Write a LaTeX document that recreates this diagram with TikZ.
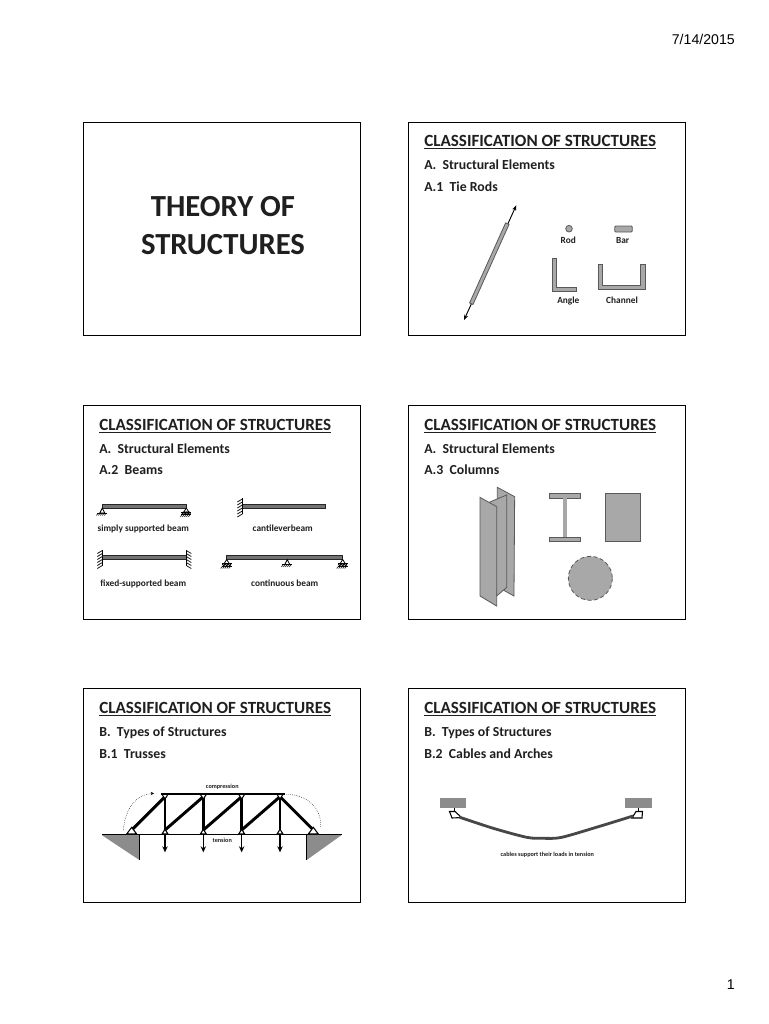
\documentclass[tikz,border=0pt]{standalone}
\usepackage{fontspec}
\setmainfont{Carlito}
\newfontfamily\arialfont{Liberation Sans}
\usetikzlibrary{arrows.meta,positioning,calc}
\definecolor{inkdark}{gray}{0.12}
\definecolor{steelgray}{gray}{0.66}
\definecolor{steeledge}{gray}{0.35}
\tikzset{
    slide/.style={draw=black,line width=.7pt,fill=white},
    slide title/.style={anchor=west,inner sep=0pt,text=inkdark,text height=11.2pt,text depth=2pt,font=\fontsize{12.8}{14}\selectfont\bfseries},
    slide text/.style={anchor=west,inner sep=0pt,text=inkdark,text height=9.2pt,text depth=2pt,font=\fontsize{10.35}{12}\selectfont\bfseries},
    small label/.style={inner sep=0pt,text=inkdark,text height=6.1pt,text depth=1.4pt,font=\fontsize{7}{8}\selectfont\bfseries},
    tiny label/.style={inner sep=0pt,text=inkdark,text height=4pt,text depth=.9pt,font=\fontsize{4.65}{5}\selectfont\bfseries},
    page text/.style={inner sep=0pt,font=\fontsize{10.6}{12}\selectfont\arialfont},
    steel/.style={fill=steelgray,draw=steeledge,line width=.6pt},
    beam/.style={fill=black!55,draw=black!85,line width=.5pt},
    arr/.style={-{Stealth[length=4.5pt,width=4pt]},line width=1.2pt},
    member/.style={line width=2.2pt,line cap=round},
    hatch/.style={line width=.45pt,black!90},
    gusset/.style={fill=white,draw=black,line width=.8pt},
    rock/.style={fill=black!45},
    pinsupport/.pic={
        \draw[line width=.6pt,fill=white] (0,0) -- (-2.5,5) -- (2.5,5) -- cycle;
        \draw[line width=.7pt] (-5,5) -- (5,5);
        \foreach \i in {-4,-2,0,2,4}
            \draw[hatch] (\i,5) -- +(-2,2.5);
    },
    rollersupport/.pic={
        \draw[line width=.6pt,fill=white] (0,0) -- (-2.5,4) -- (2.5,4) -- cycle;
        \draw[line width=.7pt] (-5,4) -- (5,4);
        \foreach \i in {-3,0,3}
            \draw[line width=.5pt] (\i,5.2) circle[radius=1.2];
        \draw[line width=.7pt] (-5,6.5) -- (5,6.5);
        \foreach \i in {-4,-2,0,2,4}
            \draw[hatch] (\i,6.5) -- +(-2,2.5);
    },
    wallsupport/.pic={
        \draw[line width=.8pt] (0,-8) -- (0,8);
        \foreach \i in {-7,-4,-1,2,5,8}
            \draw[hatch,line width=.6pt] (0,\i) -- +(-5,3);
    },
}

\begin{document}
\begin{tikzpicture}[x=.75pt,y=-.75pt]
    \useasboundingbox (0,0) rectangle (768,1024);
    \fill[white] (0,0) rectangle (768,1024);

    \node[page text,anchor=east] (datelabel) at (735,39) {7/14/2015};
    \node[page text,anchor=east] (pagelabel) at (735,985) {1};

    % six slides
    \draw[slide] (83,122) rectangle (360,335);
    \draw[slide] (408,122) rectangle (685,335);
    \draw[slide] (83,405) rectangle (360,619);
    \draw[slide] (408,405) rectangle (685,619);
    \draw[slide] (83,688) rectangle (360,902);
    \draw[slide] (408,688) rectangle (685,902);

    \node[text=inkdark,font=\fontsize{23}{28.5}\selectfont\bfseries,align=center] (maintitle) at (223,225.5) {THEORY OF\\STRUCTURES};

    % headings
    \node[slide title] (titleb) at (424,140) {\underline{CLASSIFICATION OF STRUCTURES}};
    \node[slide text] (groupb) at (424,165) {A.\ \ Structural Elements};
    \node[slide text] (itemb) at (424,187) {A.1\ \ Tie Rods};
    \node[slide title] (titlec) at (99,424) {\underline{CLASSIFICATION OF STRUCTURES}};
    \node[slide text] (groupc) at (99,449) {A.\ \ Structural Elements};
    \node[slide text] (itemc) at (99,470) {A.2\ \ Beams};
    \node[slide title] (titled) at (424,424) {\underline{CLASSIFICATION OF STRUCTURES}};
    \node[slide text] (groupd) at (424,449) {A.\ \ Structural Elements};
    \node[slide text] (itemd) at (424,470) {A.3\ \ Columns};
    \node[slide title] (titlee) at (99,707) {\underline{CLASSIFICATION OF STRUCTURES}};
    \node[slide text] (groupe) at (99,732) {B.\ \ Types of Structures};
    \node[slide text] (iteme) at (99,754) {B.1\ \ Trusses};
    \node[slide title] (titlef) at (424,707) {\underline{CLASSIFICATION OF STRUCTURES}};
    \node[slide text] (groupf) at (424,732) {B.\ \ Types of Structures};
    \node[slide text] (itemf) at (424,754) {B.2\ \ Cables and Arches};

    % tie rod
    \draw[<->,>={Stealth[length=4pt,width=3pt]},line width=.7pt] (516.3,205.3) -- (464,320);
    \draw[steel,line cap=round] (505.6,222.9) -- (469.6,302.9) -- (473,304.5) -- (509,224.5) -- cycle;
    \fill[steel] (569,228.7) circle[radius=3.3];
    \draw[steel,rounded corners=.8pt] (614.7,226) rectangle (632.3,232);
    \node[small label] (rodlabel) at (568.3,240) {Rod};
    \node[small label] (barlabel) at (622.7,240) {Bar};
    \draw[steel] (552,258.7) -- (556.3,258.7) -- (556.3,287.7) -- (576.3,287.7) -- (576.3,291.3) -- (552,291.3) -- cycle;
    \draw[steel] (598.3,264.7) -- (602.7,264.7) -- (602.7,285.3) -- (640.7,285.3) -- (640.7,264.7) -- (645,264.7) -- (645,289.3) -- (598.3,289.3) -- cycle;
    \node[small label] (anglelabel) at (568.3,300) {Angle};
    \node[small label] (channellabel) at (622,300) {Channel};

    % beams
    \draw[beam] (102.3,504) rectangle (186.3,508);
    \pic at (102.3,508) {pinsupport};
    \pic at (186.3,508) {rollersupport};
    \node[small label] (simplelabel) at (143.3,528.7) {simply supported beam};
    \draw[beam] (242.3,504) rectangle (325.7,508);
    \pic at (242.3,506) {wallsupport};
    \node[small label] (cantilabel) at (282.7,528.7) {cantileverbeam};
    \draw[beam] (102.3,555.5) rectangle (186.3,559.5);
    \pic at (102.3,557.5) {wallsupport};
    \pic[xscale=-1] at (186.3,557.5) {wallsupport};
    \node[small label] (fixedlabel) at (143.3,583.3) {fixed-supported beam};
    \draw[beam] (226.7,555.5) rectangle (342.7,559.5);
    \pic at (226.7,559.5) {rollersupport};
    \pic at (287.3,559.5) {pinsupport};
    \pic at (342.7,559.5) {rollersupport};
    \node[small label] (contlabel) at (284.7,583.3) {continuous beam};

    % column sections, coordinates as in the slide crop
    \begin{scope}[shift={(430,480)},x=.25pt,y=-.25pt]
        \draw[steel] (202,22) -- (254,50) -- (252,348) -- (202,320) -- cycle;
        \draw[steel] (175,68) -- (230,45) -- (230,322) -- (200,348) -- cycle;
        \draw[steel] (150,52) -- (200,80) -- (200,378) -- (150,348) -- cycle;
        \draw[steel] (357,40) rectangle (452,55);
        \draw[steel] (357,172) rectangle (452,183);
        \draw[steel,draw=none] (398,55) rectangle (412,172);
        \draw[steel] (525,40) rectangle (630,185);
        \draw[steel,densely dashed] (481,295) circle[radius=66];
    \end{scope}

    % truss
    \begin{scope}[shift={(90,775)},x=.25pt,y=-.25pt]
        \fill[rock] (35,180) -- (148,180) -- (148,255) -- cycle;
        \fill[rock] (650,180) -- (755,180) -- (650,255) -- cycle;
        \draw[line width=.8pt] (148,180) -- (148,255);
        \draw[line width=.8pt] (650,180) -- (650,255);
        \draw[line width=1pt] (213,57) -- (585,57);
        \draw[line width=1pt] (35,178) -- (755,178);
        \draw[member] (125,165) -- (225,65);
        \draw[member] (225,165) -- (340,65);
        \draw[member] (340,165) -- (455,65);
        \draw[member] (455,165) -- (570,65);
        \draw[member] (670,165) -- (570,65);
        \foreach \tx in {225,340,455,570}{
            \draw[member] (\tx,65) -- (\tx,165);
            \draw[gusset] (\tx-9,58) -- (\tx+9,58) -- (\tx,72) -- cycle;
            \draw[gusset] (\tx,163) -- (\tx+9,177) -- (\tx-9,177) -- cycle;
            \draw[arr] (\tx,178) -- (\tx,232);
        }
        \draw[gusset] (125,157) -- (140,177) -- (110,177) -- cycle;
        \draw[gusset] (670,157) -- (685,177) -- (655,177) -- cycle;
        \draw[densely dotted,line width=.4pt,-{Stealth[length=2.5pt,width=2.5pt]}] (100,165) .. controls (105,100) and (140,58) .. (192,55);
        \draw[densely dotted,line width=.4pt] (590,58) .. controls (640,58) and (695,90) .. (692,155);
    \end{scope}
    \node[tiny label] (compressionlabel) at (222.3,786.7) {compression};
    \node[tiny label] (tensionlabel) at (222.3,840) {tension};

    % cable
    \fill[rock] (440,798.3) rectangle (465.7,808.3);
    \fill[rock] (625,798.3) rectangle (651.7,808.3);
    \draw[line width=.7pt] (454,808.3) -- (454,812);
    \draw[line width=.7pt] (638,808.3) -- (638,812);
    \draw[gusset] (449.5,811.5) -- (455,811.5) -- (461.5,817.5) -- (452,818) -- cycle;
    \draw[gusset] (636,811.5) -- (642.5,811.5) -- (642,818) -- (632,818) -- cycle;
    \draw[line width=2.1pt,black!72] plot[smooth,tension=.5] coordinates {(459,817) (493.3,828.3) (526.7,837.3) (543.3,838.3) (561.7,837.3) (598.3,826.7) (633,816)};
    \node[tiny label] (cablelabel) at (547.3,854.3) {cables support their loads in tension};
\end{tikzpicture}
\end{document}
